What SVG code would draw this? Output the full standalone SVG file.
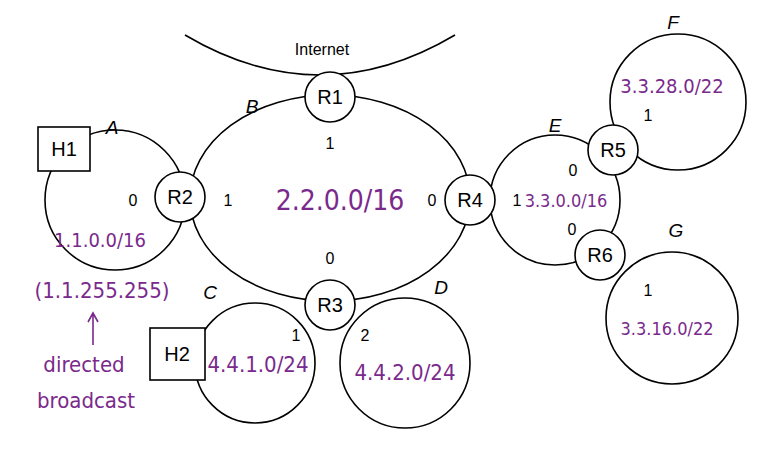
<svg xmlns="http://www.w3.org/2000/svg" width="784" height="468" viewBox="0 0 784 468">
<style>
.l{fill:none;stroke:#000;stroke-width:1.6}
.a{fill:none;stroke:#7a2a8c;stroke-width:1.6}
.r{fill:#fff;stroke:#000;stroke-width:1.6}
.t{font-family:"Liberation Sans",Arial,sans-serif;font-size:20px;text-anchor:middle;dominant-baseline:central}
.s{font-family:"Liberation Sans",Arial,sans-serif;font-size:16px;text-anchor:middle;dominant-baseline:central}
.i{font-family:"Liberation Sans",Arial,sans-serif;font-size:19px;font-style:italic;text-anchor:middle;dominant-baseline:central}
.p{font-family:"DejaVu Sans Condensed","DejaVu Sans",sans-serif;fill:#7a2a8c;text-anchor:middle;dominant-baseline:central}
</style>
<g id="connectors">
<path class="l" d="M185,35 Q320,115 455,35"/>
<ellipse class="l" cx="330" cy="198" rx="140" ry="103"/>
<circle class="l" cx="115" cy="200" r="70"/>
<circle class="l" cx="255" cy="363" r="60"/>
<circle class="l" cx="405" cy="363" r="65"/>
<circle class="l" cx="555" cy="200" r="65"/>
<circle class="l" cx="678" cy="102" r="68"/>
<circle class="l" cx="672" cy="318" r="66"/>
<path class="a" d="M93,345 V315 M88,322 L93,313 L98,322"/>
</g>
<g id="H1"><rect class="r" x="38" y="127" width="52" height="44"/><text class="t" x="64" y="149">H1</text></g>
<g id="H2"><rect class="r" x="150" y="328" width="55" height="52"/><text class="t" x="177" y="354">H2</text></g>
<g id="R1"><circle class="r" cx="330" cy="97" r="25"/><text class="t" x="330" y="97">R1</text></g>
<g id="R2"><circle class="r" cx="180" cy="197" r="25"/><text class="t" x="180" y="197">R2</text></g>
<g id="R3"><circle class="r" cx="330" cy="305" r="25"/><text class="t" x="330" y="305">R3</text></g>
<g id="R4"><circle class="r" cx="470" cy="200" r="25"/><text class="t" x="470" y="200">R4</text></g>
<g id="R5"><circle class="r" cx="613" cy="150" r="25"/><text class="t" x="613" y="150">R5</text></g>
<g id="R6"><circle class="r" cx="600" cy="255" r="25"/><text class="t" x="600" y="255">R6</text></g>
<g id="labels">
<text class="s" x="322" y="49" font-size="17">Internet</text>
<text class="i" x="112" y="127">A</text><text class="i" x="252" y="106">B</text>
<text class="i" x="210" y="292">C</text><text class="i" x="441" y="287">D</text>
<text class="i" x="555" y="125">E</text><text class="i" x="673" y="22">F</text>
<text class="i" x="676" y="230">G</text>
<text class="s" x="330" y="143">1</text>
<text class="s" x="133" y="200">0</text><text class="s" x="228" y="200">1</text>
<text class="s" x="330" y="258">0</text><text class="s" x="296" y="335">1</text><text class="s" x="365" y="335">2</text>
<text class="s" x="432" y="200">0</text><text class="s" x="517" y="200">1</text>
<text class="s" x="573" y="170">0</text><text class="s" x="648" y="115">1</text>
<text class="s" x="572" y="229">0</text><text class="s" x="648" y="290">1</text>
<text class="p" x="340" y="200" font-size="28">2.2.0.0/16</text>
<text class="p" x="100" y="240" font-size="20">1.1.0.0/16</text>
<text class="p" x="102" y="290" font-size="22">(1.1.255.255)</text>
<text class="p" x="84" y="364" font-size="22">directed</text>
<text class="p" x="86" y="400" font-size="22">broadcast</text>
<text class="p" x="258" y="364" font-size="22">4.4.1.0/24</text>
<text class="p" x="405" y="372" font-size="22">4.4.2.0/24</text>
<text class="p" x="566" y="200" font-size="18">3.3.0.0/16</text>
<text class="p" x="672" y="86" font-size="20">3.3.28.0/22</text>
<text class="p" x="667" y="328" font-size="18">3.3.16.0/22</text>
</g>
</svg>
